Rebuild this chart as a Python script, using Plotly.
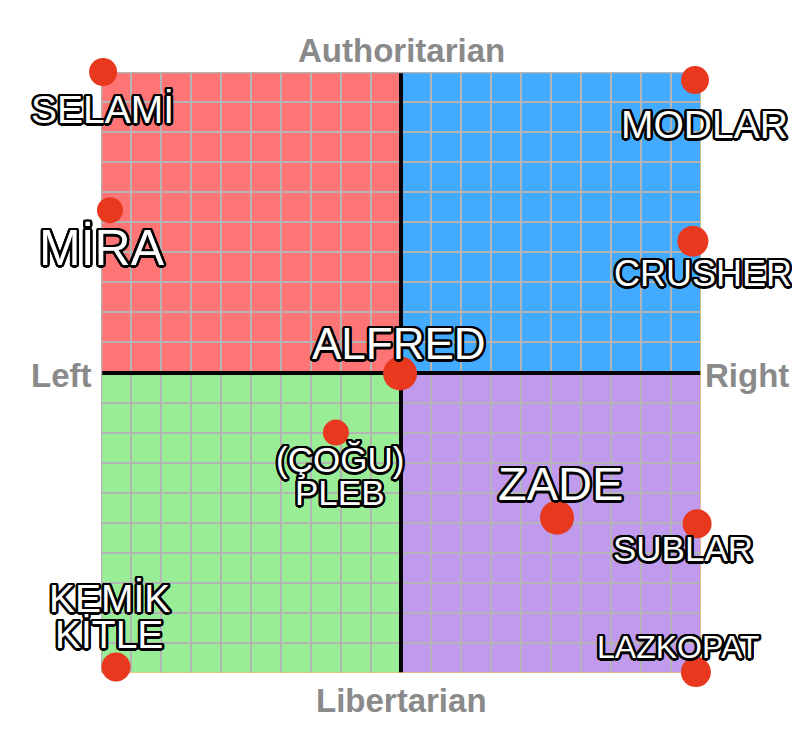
import plotly.graph_objects as go

# ---- data ----
names = ["SELAMİ", "JAHO", "MODLAR", "MİRA", "CRUSHER", "ALFRED",
         "(ÇOĞU)<br>PLEB", "ZADE", "SUBLAR", "KEMİK<br>KİTLE", "LAZKOPAT"]
economic = [-9.93, -0.03, 9.8, -9.7, 9.73, -0.03, -2.17, 5.2, 9.87, -9.5, 9.83]
social = [10.0, 10.13, 9.73, 5.4, 4.37, -0.03, -2.0, -4.83, -5.03, -9.8, -9.97]
axis_names = ["Authoritarian", "Libertarian", "Left", "Right"]

# ---- styling (not data) ----
dot_sizes = [28, 30, 28, 26, 31, 34, 26, 34, 29, 29, 30]
label_sizes = [39, 46, 39, 50, 36, 44, 35, 47, 35, 39, 32]
label_shift = [(-1, -37), (0, -30), (9, -44), (-8, -38), (10, -32), (-1, 30),
               (4, -43), (3, 34), (-14, -25), (-7, 50), (-18, 25)]
line_gap = [0, 0, 0, 0, 0, 0, 33, 0, 0, 36, 0]

RED = "#ff7575"
BLUE = "#42aaff"
GREEN = "#9aed97"
PURPLE = "#c09aec"
DOT = "#e8391e"
GRID = "#b4b4b4"

outline = ", ".join(f"{dx}px {dy}px 0 #000" for dx, dy in
                    [(2.5, 0), (-2.5, 0), (0, 2.5), (0, -2.5), (1.8, 1.8), (-1.8, -1.8),
                     (1.8, -1.8), (-1.8, 1.8), (2.3, 1), (-2.3, 1), (2.3, -1), (-2.3, -1),
                     (1, 2.3), (-1, 2.3), (1, -2.3), (-1, -2.3)])

fig = go.Figure()

fig.add_trace(go.Scatter(
    x=economic, y=social, mode="markers",
    marker=dict(size=dot_sizes, color=DOT, opacity=1, line=dict(width=0)),
    cliponaxis=False, hoverinfo="skip", showlegend=False,
))

shapes = []
for x0, x1, y0, y1, c in [(-10, 0, 0, 10, RED), (0, 10, 0, 10, BLUE),
                          (-10, 0, -10, 0, GREEN), (0, 10, -10, 0, PURPLE)]:
    shapes.append(dict(type="rect", xref="x", yref="y", x0=x0, x1=x1, y0=y0, y1=y1,
                       fillcolor=c, line=dict(width=0), layer="below"))
# edges: gray top/left, faint orange right/bottom
for x0, x1, y0, y1, c in [(-10, 10, 10, 10, GRID), (-10, -10, -10, 10, GRID),
                          (10, 10, -10, 10, "#f5c070"), (-10, 10, -10, -10, "#f5c070")]:
    shapes.append(dict(type="line", xref="x", yref="y", x0=x0, x1=x1, y0=y0, y1=y1,
                       line=dict(color=c, width=2.5 if c == GRID else 1.5),
                       layer="between"))

annotations = []
for i, name in enumerate(names):
    lines = name.split("<br>")
    n = len(lines)
    dx, dy = label_shift[i]
    for j, ln in enumerate(lines):
        off = (j - (n - 1) / 2) * line_gap[i]
        annotations.append(dict(
            x=economic[i], y=social[i], xref="x", yref="y", text=ln,
            showarrow=False, xshift=dx, yshift=dy - off,
            font=dict(family="Liberation Sans, Arial", size=label_sizes[i],
                      color="white", shadow=outline),
        ))

axis_lbl_font = dict(family="Liberation Sans, Arial", size=33, color="#8a8a8a",
                     weight="bold")
annotations += [
    dict(x=0, y=10, xref="x", yref="y", text=axis_names[0], showarrow=False,
         yshift=22, font=axis_lbl_font),
    dict(x=0, y=-10, xref="x", yref="y", text=axis_names[1], showarrow=False,
         yshift=-27, font=axis_lbl_font),
    dict(x=-10, y=0, xref="x", yref="y", text=axis_names[2], showarrow=False,
         xshift=-40, yshift=-3, font=axis_lbl_font),
    dict(x=10, y=0, xref="x", yref="y", text=axis_names[3], showarrow=False,
         xshift=46, yshift=-3, font=axis_lbl_font),
]

axis_common = dict(range=[-10, 10], dtick=1, tick0=0, showgrid=True,
                   gridcolor=GRID, gridwidth=2, zeroline=True,
                   zerolinecolor="black", zerolinewidth=4,
                   showticklabels=False, ticks="", showline=False,
                   fixedrange=True)

fig.update_layout(
    width=800, height=747,
    margin=dict(l=93, r=107, t=64, b=82),
    paper_bgcolor="white", plot_bgcolor="white",
    xaxis=dict(**axis_common),
    yaxis=dict(**axis_common),
    shapes=shapes, annotations=annotations, showlegend=False,
)

fig.write_html("out.html")
